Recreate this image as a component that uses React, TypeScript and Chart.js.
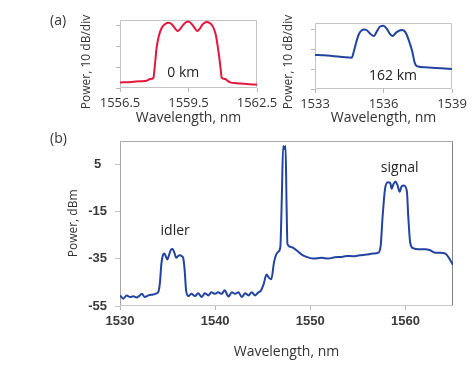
import React, { useEffect, useRef } from "react";
import { Chart, registerables } from "chart.js";

Chart.register(...registerables);

// ---------- Panel (a), 0 km : wavelength (nm) / relative power (divisions of 10 dB)
const wavelength0km = [
  1556.5, 1557.0, 1557.4, 1557.67, 1557.82, 1557.96, 1558.02, 1558.1, 1558.2, 1558.33,
  1558.48, 1558.62, 1558.77, 1558.9, 1559.03, 1559.15, 1559.28, 1559.4, 1559.5, 1559.62,
  1559.76, 1559.89, 1560.0, 1560.1, 1560.2, 1560.31, 1560.43, 1560.53, 1560.63, 1560.71,
  1560.78, 1560.86, 1560.92, 1560.96, 1561.11, 1561.2, 1561.33, 1561.6, 1561.91, 1562.2, 1562.5,
];
const power0km = [
  0.27, 0.29, 0.32, 0.35, 0.43, 0.48, 1.0, 1.9, 2.5, 2.9,
  3.08, 3.14, 3.07, 2.88, 2.74, 2.86, 3.05, 3.17, 3.2, 3.1,
  2.9, 2.74, 2.86, 3.03, 3.13, 3.17, 3.12, 3.02, 2.8, 2.48,
  2.0, 1.36, 0.8, 0.48, 0.43, 0.36, 0.27, 0.23, 0.21, 0.18, 0.16,
];

// ---------- Panel (a), 162 km
const wavelength162km = [
  1533.0, 1533.4, 1533.73, 1534.2, 1534.61, 1534.7, 1534.8, 1534.92, 1535.05, 1535.15,
  1535.27, 1535.42, 1535.58, 1535.72, 1535.85, 1536.0, 1536.13, 1536.28, 1536.4, 1536.55,
  1536.7, 1536.82, 1536.95, 1537.07, 1537.17, 1537.26, 1537.35, 1537.42, 1537.55, 1537.8,
  1538.12, 1538.5, 1539.0,
];
const power162km = [
  1.73, 1.71, 1.68, 1.63, 1.59, 1.9, 2.35, 2.78, 2.98, 3.02,
  2.98, 2.8, 2.69, 2.95, 3.17, 3.21, 3.08, 2.8, 2.69, 2.86,
  2.97, 3.0, 2.9, 2.6, 2.25, 1.9, 1.4, 1.2, 1.13, 1.1,
  1.08, 1.05, 1.02,
];

// ---------- Panel (b): full spectrum, wavelength (nm) / power (dBm)
const wavelengthFull = [
  1530.0, 1530.35, 1530.7, 1531.05, 1531.4, 1531.75, 1532.0, 1532.3, 1532.6, 1533.0,
  1533.5, 1533.85, 1534.05, 1534.2, 1534.35, 1534.5, 1534.65, 1534.8, 1534.97, 1535.15,
  1535.35, 1535.53, 1535.72, 1535.9, 1536.1, 1536.3, 1536.5, 1536.65, 1536.8, 1536.95,
  1537.2, 1537.5, 1537.9, 1538.2, 1538.6, 1538.9, 1539.3, 1539.6, 1540.0, 1540.3,
  1540.7, 1541.0, 1541.4, 1541.75, 1542.1, 1542.45, 1542.8, 1543.15, 1543.5, 1543.85,
  1544.2, 1544.55, 1544.8, 1545.1, 1545.4, 1545.65, 1545.9, 1546.2, 1546.6, 1546.85,
  1547.0, 1547.15, 1547.27, 1547.4, 1547.5, 1547.6, 1548.05, 1548.55, 1549.1, 1549.6,
  1550.3, 1551.2, 1551.9, 1552.6, 1553.3, 1553.8, 1554.5, 1555.2, 1555.9, 1556.6,
  1557.15, 1557.4, 1557.6, 1557.85, 1558.15, 1558.4, 1558.55, 1558.75, 1558.95, 1559.15,
  1559.4, 1559.6, 1559.85, 1560.15, 1560.3, 1560.5, 1560.8, 1561.4, 1562.1, 1562.6,
  1563.1, 1563.65, 1564.2, 1564.5, 1564.9, 1565.0,
];
const powerFull = [
  -50.5, -51.9, -50.5, -51.2, -50.9, -51.4, -50.8, -49.8, -51.2, -50.5,
  -50.1, -49.6, -48.8, -45.0, -37.0, -33.6, -32.8, -33.8, -35.3, -33.5,
  -31.2, -30.8, -32.5, -34.6, -33.8, -33.5, -33.9, -34.8, -40.0, -48.5,
  -50.8, -49.8, -50.8, -49.6, -51.2, -49.6, -50.5, -49.2, -49.8, -49.2,
  -49.8, -48.3, -51.0, -49.2, -49.8, -49.2, -51.2, -49.6, -50.5, -49.2,
  -50.5, -49.2, -48.5, -45.7, -41.7, -43.0, -43.7, -36.2, -32.1, -30.1,
  -10.4, 12.8, 11.5, 12.8, -10.4, -28.8, -30.1, -31.4, -33.2, -34.2,
  -34.9, -34.6, -34.9, -34.3, -34.2, -33.8, -33.9, -33.5, -33.2, -32.8,
  -32.4, -29.4, -17.2, -5.6, -2.6, -2.8, -5.3, -3.3, -2.2, -3.6,
  -6.6, -4.3, -3.9, -6.3, -17.2, -28.1, -30.5, -31.0, -31.0, -31.4,
  -32.4, -32.4, -32.8, -34.2, -36.9, -37.6,
];

// ---------- Ticks
const xTicks0km = [1556.5, 1559.5, 1562.5];
const xTicks162km = [1533, 1536, 1539];
const yTicksDiv = [0, 1, 2, 3];
const xTicksFull = [1530, 1540, 1550, 1560];
const yTicksFull = [-55, -35, -15, 5];

const CAL = "'Open Sans', sans-serif";
const ARIAL = "'Liberation Sans', Arial, sans-serif";
const RED = "#e3173d";
const BLUE = "#2243a0";
const TXT = "#333333";

const framePlugin = {
  id: "frame",
  beforeDatasetsDraw(chart: any, _a: any, opts: any) {
    const { ctx, chartArea } = chart;
    const l = Math.round(chartArea.left) + 0.5;
    const r = Math.round(chartArea.right) - 0.5;
    const t = Math.round(chartArea.top) + 0.5;
    const b = Math.round(chartArea.bottom) - 0.5;
    ctx.save();
    ctx.lineWidth = 1;
    const seg = (c: string, x1: number, y1: number, x2: number, y2: number) => {
      ctx.strokeStyle = c;
      ctx.beginPath();
      ctx.moveTo(x1, y1);
      ctx.lineTo(x2, y2);
      ctx.stroke();
    };
    seg(opts.top, l, t, r, t);
    seg(opts.right, r, t, r, b);
    seg(opts.bottom, l, b, r, b);
    seg(opts.left, l, t, l, b);
    ctx.restore();
  },
};

const notesPlugin = {
  id: "notes",
  afterDatasetsDraw(chart: any, _a: any, opts: any) {
    const { ctx } = chart;
    const items = opts.items || [];
    for (let i = 0; i < items.length; i++) {
      const it = items[i];
      const x = it.px !== undefined ? it.px : chart.scales.x.getPixelForValue(it.x);
      const y = it.py !== undefined ? it.py : chart.scales.y.getPixelForValue(it.y);
      ctx.save();
      ctx.font = it.font;
      ctx.fillStyle = it.color;
      ctx.textAlign = "center";
      ctx.textBaseline = "middle";
      ctx.translate(x, y);
      if (it.rot) ctx.rotate(it.rot);
      ctx.fillText(it.text, 0, 0);
      ctx.restore();
    }
  },
};

function toPoints(xs: number[], ys: number[]) {
  return xs.map((x, i) => ({ x, y: ys[i] }));
}

function setTicks(values: number[]) {
  return (s: any) => {
    s.ticks = values.map((value) => ({ value }));
  };
}

function smallPanel(opts: {
  xs: number[];
  ys: number[];
  color: string;
  xMin: number;
  xMax: number;
  xTicks: number[];
  yMax: number;
  padTop: number;
  padRight: number;
  yWidth: number;
  xHeight: number;
  note: { text: string; x: number; y: number };
  yTitleX: number;
}): any {
  return {
    type: "line",
    data: {
      datasets: [
        {
          data: toPoints(opts.xs, opts.ys),
          borderColor: opts.color,
          borderWidth: 2,
          pointRadius: 0,
          fill: false,
          cubicInterpolationMode: "monotone",
        },
      ],
    },
    options: {
      animation: false,
      responsive: false,
      maintainAspectRatio: false,
      events: [],
      layout: { padding: { top: opts.padTop, right: opts.padRight, left: 0, bottom: 0 } },
      plugins: {
        legend: { display: false },
        tooltip: { enabled: false },
        frame: { top: "#c4c4c4", right: "#c4c4c4", bottom: "#c4c4c4", left: "#c4c4c4" },
        notes: {
          items: [
            { text: opts.note.text, x: opts.note.x, y: opts.note.y, font: `14px ${CAL}`, color: "#222" },
            {
              text: "Power, 10 dB/div",
              px: opts.yTitleX,
              py: 62,
              rot: -Math.PI / 2,
              font: `12px ${CAL}`,
              color: TXT,
            },
          ],
        },
      },
      scales: {
        x: {
          type: "linear",
          min: opts.xMin,
          max: opts.xMax,
          afterBuildTicks: setTicks(opts.xTicks),
          afterFit: (s: any) => {
            s.height = opts.xHeight;
          },
          border: { display: false },
          grid: { drawOnChartArea: false, color: "#b8b8b8", tickLength: 4 },
          ticks: {
            font: { family: CAL, size: 13 },
            color: TXT,
            padding: 3,
            maxRotation: 0,
            autoSkip: false,
            callback: (v: any) => String(v),
          },
          title: {
            display: true,
            text: "Wavelength, nm",
            font: { family: CAL, size: 14 },
            color: TXT,
            padding: { top: 0, bottom: 4 },
          },
        },
        y: {
          type: "linear",
          min: 0,
          max: opts.yMax,
          afterBuildTicks: setTicks(yTicksDiv),
          afterFit: (s: any) => {
            s.width = opts.yWidth;
          },
          border: { display: false },
          grid: { drawOnChartArea: false, color: "#b8b8b8", tickLength: 4 },
          ticks: { display: false },
        },
      },
    },
    plugins: [framePlugin, notesPlugin],
  };
}

export default function App() {
  const refA1 = useRef<HTMLCanvasElement>(null);
  const refA2 = useRef<HTMLCanvasElement>(null);
  const refB = useRef<HTMLCanvasElement>(null);

  useEffect(() => {
    const charts: Chart[] = [];
    if (refA1.current) {
      charts.push(
        new Chart(
          refA1.current,
          smallPanel({
            xs: wavelength0km,
            ys: power0km,
            color: RED,
            xMin: 1556.5,
            xMax: 1562.5,
            xTicks: xTicks0km,
            yMax: 3.27,
            padTop: 20,
            padRight: 33,
            yWidth: 120,
            xHeight: 42,
            note: { text: "0 km", x: 1559.27, y: 0.72 },
            yTitleX: 87,
          })
        )
      );
    }
    if (refA2.current) {
      charts.push(
        new Chart(
          refA2.current,
          smallPanel({
            xs: wavelength162km,
            ys: power162km,
            color: BLUE,
            xMin: 1533,
            xMax: 1539,
            xTicks: xTicks162km,
            yMax: 3.35,
            padTop: 23,
            padRight: 22,
            yWidth: 53,
            xHeight: 41,
            note: { text: "162 km", x: 1536.42, y: 0.66 },
            yTitleX: 27,
          })
        )
      );
    }
    if (refB.current) {
      const cfg: any = {
        type: "line",
        data: {
          datasets: [
            {
              data: toPoints(wavelengthFull, powerFull),
              borderColor: BLUE,
              borderWidth: 2,
              pointRadius: 0,
              fill: false,
              cubicInterpolationMode: "monotone",
            },
          ],
        },
        options: {
          animation: false,
          responsive: false,
          maintainAspectRatio: false,
          events: [],
          layout: { padding: { top: 9, right: 21, left: 0, bottom: 0 } },
          plugins: {
            legend: { display: false },
            tooltip: { enabled: false },
            frame: { top: "#a8a8a8", right: "#808080", bottom: "#c8c8c8", left: "#a8a8a8" },
            notes: {
              items: [
                { text: "idler", x: 1535.8, y: -23.2, font: `14px ${CAL}`, color: "#222" },
                { text: "signal", x: 1559.4, y: 3.4, font: `14px ${CAL}`, color: "#222" },
              ],
            },
          },
          scales: {
            x: {
              type: "linear",
              min: 1530,
              max: 1565,
              afterBuildTicks: setTicks(xTicksFull),
              afterFit: (s: any) => {
                s.height = 65;
              },
              border: { display: false },
              grid: { drawOnChartArea: false, color: "#b8b8b8", tickLength: 4 },
              ticks: {
                font: { family: ARIAL, size: 13, weight: "bold" },
                color: "#3a3a3a",
                padding: 4,
                maxRotation: 0,
                autoSkip: false,
                callback: (v: any) => String(v),
              },
              title: {
                display: true,
                text: "Wavelength, nm",
                font: { family: CAL, size: 14 },
                color: TXT,
                padding: { top: 0, bottom: 11 },
              },
            },
            y: {
              type: "linear",
              min: -55,
              max: 15,
              afterBuildTicks: setTicks(yTicksFull),
              afterFit: (s: any) => {
                s.width = 120;
              },
              border: { display: false },
              grid: { drawOnChartArea: false, color: "#c4c4c4", tickLength: 5 },
              ticks: {
                font: { family: ARIAL, size: 13, weight: "bold" },
                color: "#3a3a3a",
                padding: 8,
                crossAlign: "center",
                autoSkip: false,
                callback: (v: any) => String(v),
              },
              title: {
                display: true,
                text: "Power, dBm",
                font: { family: CAL, size: 12 },
                color: TXT,
                padding: { top: 66, bottom: 0 },
              },
            },
          },
        },
        plugins: [framePlugin, notesPlugin],
      };
      charts.push(new Chart(refB.current, cfg));
    }
    return () => {
      charts.forEach((c) => c.destroy());
    };
  }, []);

  const label: React.CSSProperties = {
    position: "absolute",
    fontFamily: CAL,
    fontSize: 14,
    lineHeight: "14px",
    color: TXT,
    left: 50,
  };

  return (
    <div style={{ position: "absolute", left: 0, top: 0, width: 474, height: 371, background: "#fff" }}>
      <canvas
        ref={refB}
        width={474}
        height={246}
        style={{ position: "absolute", left: 0, top: 125, width: 474, height: 246 }}
      />
      <canvas
        ref={refA1}
        width={290}
        height={130}
        style={{ position: "absolute", left: 0, top: 0, width: 290, height: 130 }}
      />
      <canvas
        ref={refA2}
        width={212}
        height={130}
        style={{ position: "absolute", left: 262, top: 0, width: 212, height: 130 }}
      />
      <div style={{ ...label, top: 13 }}>(a)</div>
      <div style={{ ...label, top: 131 }}>(b)</div>
    </div>
  );
}
